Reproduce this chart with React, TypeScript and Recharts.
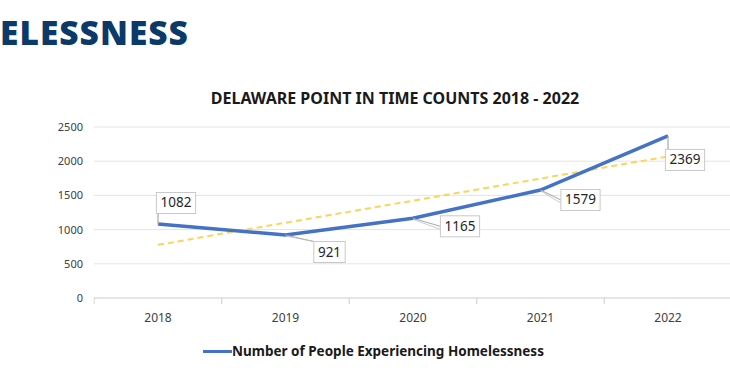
import React from 'react';
import { LineChart, Line, XAxis, YAxis, CartesianGrid, LabelList } from 'recharts';

const years = ['2018', '2019', '2020', '2021', '2022'];
const homeless = [1082, 921, 1165, 1579, 2369];
const trend = [777, 1100, 1423, 1746, 2070];
const yTicks = [0, 500, 1000, 1500, 2000, 2500];

// where each callout box sits relative to its point (dx, dy of box centre)
const labelOffsets = [
  [18, -21],
  [44, 17],
  [47, 8],
  [40, 10],
  [17, 24],
];

const data = years.map((year, i) => ({ year, value: homeless[i], trend: trend[i] }));

const BAND_HALF = 63.75;
const FONT = '"Noto Sans", "Open Sans", sans-serif';

const XTick = (props: any) => {
  const { x, y, payload } = props;
  return (
    <g>
      <line x1={x - BAND_HALF} x2={x - BAND_HALF} y1={298} y2={304} stroke="#d9d9d9" />
      <line x1={x + BAND_HALF} x2={x + BAND_HALF} y1={298} y2={304} stroke="#d9d9d9" />
      <text x={x} y={y} dy="0.71em" textAnchor="middle" fontSize={12} fill="#404040" fontFamily={FONT}>
        {payload.value}
      </text>
    </g>
  );
};

const Callout = (props: any) => {
  const { x, y, value, index } = props;
  const [dx, dy] = labelOffsets[index];
  const w = String(value).length * 7.8 + 8;
  const h = 21;
  const cx = x + dx;
  const cy = y + dy;
  const left = cx - w / 2;
  const top = cy - h / 2;
  // leader goes to the box corner/edge nearest the point
  const ex = Math.max(left, Math.min(x, left + w));
  const ey = y < top ? top : y > top + h ? top + h : cy;
  return (
    <g>
      <line x1={x} y1={y} x2={ex} y2={ey} stroke="#a6a6a6" strokeWidth={1} />
      <line x1={x} y1={y + 1} x2={ex} y2={ey + (ey === cy ? 3 : 0)} stroke="#bfbfbf" strokeWidth={0.8} />
      <rect x={left} y={top} width={w} height={h} fill="#fff" stroke="#c9c9c9" strokeWidth={1} />
      <text x={cx} y={cy + 4.5} textAnchor="middle" fontSize={13.5} fill="#262626" fontFamily={FONT}>
        {value}
      </text>
    </g>
  );
};

export default function App() {
  return (
    <div style={{ position: 'fixed', left: 0, top: 0, width: 730, height: 383, overflow: 'hidden', background: '#fff' }}>
      <div
        style={{
          position: 'absolute',
          left: 0,
          top: 11,
          fontFamily: '"Open Sans", sans-serif',
          fontWeight: 800,
          fontSize: 33.5,
          color: '#0b3a68',
          letterSpacing: 1,
          lineHeight: '42px',
        }}
      >
        ELESSNESS
      </div>
      <div
        style={{
          position: 'absolute',
          left: 0,
          width: 790,
          top: 87,
          textAlign: 'center',
          fontFamily: FONT,
          fontWeight: 700,
          fontSize: 16,
          color: '#1a1a1a',
          lineHeight: '22px',
        }}
      >
        DELAWARE POINT IN TIME COUNTS 2018 - 2022
      </div>
      <div style={{ position: 'absolute', left: 0, top: 0 }}>
        <LineChart width={760} height={383} data={data} margin={{ top: 127, right: 28, bottom: 55, left: 0 }}>
          <CartesianGrid vertical={false} stroke="#e4e4e4" />
          <XAxis
            dataKey="year"
            height={30}
            padding={{ left: 64, right: 64 }}
            axisLine={{ stroke: '#d9d9d9' }}
            tickLine={false}
            tickMargin={9}
            tick={<XTick />}
            interval={0}
          />
          <YAxis
            width={94}
            domain={[0, 2500]}
            ticks={yTicks}
            interval={0}
            axisLine={false}
            tickLine={false}
            tickMargin={5}
            tick={{ fontSize: 11, fill: '#404040', fontFamily: FONT }}
          />
          <Line
            dataKey="trend"
            stroke="#fdd35a"
            strokeWidth={2}
            strokeDasharray="6 4"
            dot={false}
            isAnimationActive={false}
          />
          <Line
            dataKey="value"
            name="Number of People Experiencing Homelessness"
            stroke="#4472c4"
            strokeWidth={3.5}
            dot={false}
            isAnimationActive={false}
          >
            <LabelList dataKey="value" content={<Callout />} />
          </Line>
        </LineChart>
      </div>
      <div
        style={{
          position: 'absolute',
          left: 203,
          top: 341,
          display: 'flex',
          alignItems: 'center',
          fontFamily: FONT,
          fontWeight: 700,
          fontSize: 13.5,
          color: '#1a1a1a',
          lineHeight: '20px',
        }}
      >
        <span style={{ display: 'inline-block', width: 29, height: 3, background: '#4472c4' }} />
        <span>Number of People Experiencing Homelessness</span>
      </div>
    </div>
  );
}
